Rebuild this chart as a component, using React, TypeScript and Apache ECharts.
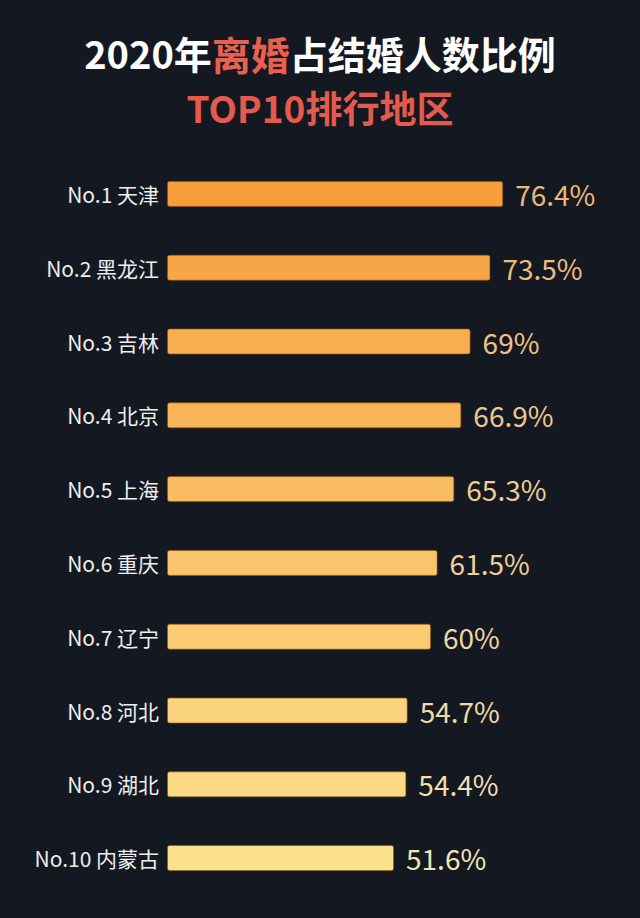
import React, { useEffect, useRef } from "react";
import * as echarts from "echarts";

const regions = ["天津", "黑龙江", "吉林", "北京", "上海", "重庆", "辽宁", "河北", "湖北", "内蒙古"];
const values = [76.4, 73.5, 69, 66.9, 65.3, 61.5, 60, 54.7, 54.4, 51.6];
const titleWhite1 = "2020年";
const titleRed = "离婚";
const titleWhite2 = "占结婚人数比例";
const subtitle = "TOP10排行地区";

function lerp(a: number[], b: number[], t: number) {
  const c = a.map((v, i) => Math.round(v + (b[i] - v) * t));
  return `rgb(${c[0]},${c[1]},${c[2]})`;
}
const topBar = [246, 158, 60];
const botBar = [253, 226, 142];
const topLab = [236, 184, 122];
const botLab = [242, 228, 180];

export default function App() {
  const ref = useRef<HTMLDivElement>(null);
  useEffect(() => {
    if (!ref.current) return;
    const chart = echarts.init(ref.current, null, { renderer: "svg" });
    const n = values.length;
    chart.setOption({
      animation: false,
      backgroundColor: "#131821",
      title: [
        {
          text: `{w|${titleWhite1}}{r|${titleRed}}{w|${titleWhite2}}`,
          left: "center",
          top: 28,
          textStyle: {
            rich: {
              w: { color: "#ffffff", fontSize: 38, fontWeight: "bold", fontFamily: "Noto Sans CJK SC" },
              r: { color: "#e8604f", fontSize: 39, fontWeight: "bold", fontFamily: "Noto Sans CJK SC" },
            },
          },
        },
        {
          text: subtitle,
          left: "center",
          top: 83,
          textStyle: { color: "#e45a4c", fontSize: 37, fontWeight: "bold", fontFamily: "Noto Sans CJK SC" },
        },
      ],
      grid: { left: 167, right: 33, top: 157, bottom: 23, containLabel: false },
      xAxis: { type: "value", min: 0, max: 100, show: false },
      yAxis: {
        type: "category",
        inverse: true,
        data: regions,
        axisLine: { show: false },
        axisTick: { show: false },
        splitLine: { show: false },
        axisLabel: {
          color: "#eeeeee",
          fontSize: 21,
          fontFamily: "Noto Sans CJK SC",
          margin: 8,
          formatter: (v: string, i: number) => `No.${i + 1} ${v}`,
        },
      },
      series: [
        {
          type: "bar",
          data: values,
          barWidth: 26,
          itemStyle: {
            color: (p: any) => lerp(topBar, botBar, p.dataIndex / (n - 1)),
            borderColor: "rgba(150,80,10,0.6)",
            borderWidth: 1,
            borderRadius: 2,
          },
          label: {
            show: true,
            position: "right",
            distance: 12,
            fontSize: 28,
            fontFamily: "Noto Sans CJK SC",
            formatter: (p: any) => `{c${p.dataIndex}|${p.value}%}`,
            rich: Object.fromEntries(
              values.map((_, i) => [
                `c${i}`,
                { color: lerp(topLab, botLab, i / (n - 1)), fontSize: 28, fontFamily: "Noto Sans CJK SC" },
              ])
            ),
          },
        },
      ],
    });
    return () => chart.dispose();
  }, []);
  return <div ref={ref} style={{ width: 640, height: 918, position: "absolute", left: 0, top: 0 }} />;
}
